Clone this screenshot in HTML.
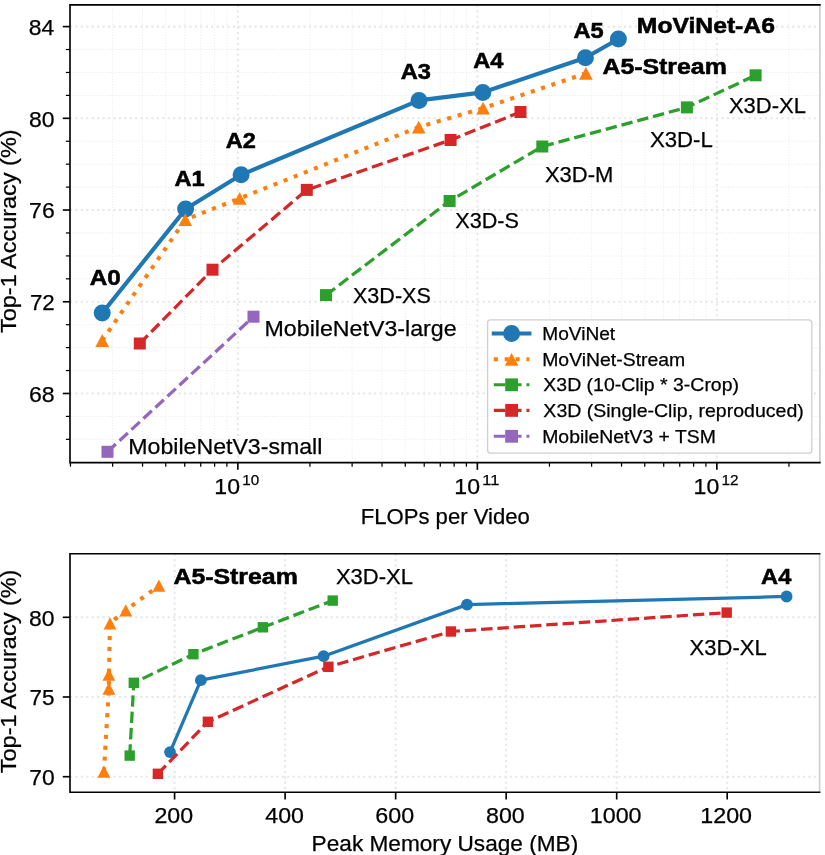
<!DOCTYPE html>
<html><head><meta charset="utf-8"><style>
html,body{margin:0;padding:0;background:#fff;}
svg{display:block;filter:blur(0.35px);}
text{font-family:"Liberation Sans",sans-serif;fill:#000;}
</style></head><body>
<svg width="825" height="855" viewBox="0 0 825 855">
<rect width="825" height="855" fill="#fff"/>
<line x1="70" y1="439.34" x2="819.9" y2="439.34" stroke="#ebebeb" stroke-width="1.03" stroke-dasharray="1.03 1.7"/>
<line x1="70" y1="416.41" x2="819.9" y2="416.41" stroke="#ebebeb" stroke-width="1.03" stroke-dasharray="1.03 1.7"/>
<line x1="70" y1="370.55" x2="819.9" y2="370.55" stroke="#ebebeb" stroke-width="1.03" stroke-dasharray="1.03 1.7"/>
<line x1="70" y1="347.62" x2="819.9" y2="347.62" stroke="#ebebeb" stroke-width="1.03" stroke-dasharray="1.03 1.7"/>
<line x1="70" y1="324.69" x2="819.9" y2="324.69" stroke="#ebebeb" stroke-width="1.03" stroke-dasharray="1.03 1.7"/>
<line x1="70" y1="278.83" x2="819.9" y2="278.83" stroke="#ebebeb" stroke-width="1.03" stroke-dasharray="1.03 1.7"/>
<line x1="70" y1="255.9" x2="819.9" y2="255.9" stroke="#ebebeb" stroke-width="1.03" stroke-dasharray="1.03 1.7"/>
<line x1="70" y1="232.97" x2="819.9" y2="232.97" stroke="#ebebeb" stroke-width="1.03" stroke-dasharray="1.03 1.7"/>
<line x1="70" y1="187.11" x2="819.9" y2="187.11" stroke="#ebebeb" stroke-width="1.03" stroke-dasharray="1.03 1.7"/>
<line x1="70" y1="164.18" x2="819.9" y2="164.18" stroke="#ebebeb" stroke-width="1.03" stroke-dasharray="1.03 1.7"/>
<line x1="70" y1="141.25" x2="819.9" y2="141.25" stroke="#ebebeb" stroke-width="1.03" stroke-dasharray="1.03 1.7"/>
<line x1="70" y1="95.39" x2="819.9" y2="95.39" stroke="#ebebeb" stroke-width="1.03" stroke-dasharray="1.03 1.7"/>
<line x1="70" y1="72.46" x2="819.9" y2="72.46" stroke="#ebebeb" stroke-width="1.03" stroke-dasharray="1.03 1.7"/>
<line x1="70" y1="49.53" x2="819.9" y2="49.53" stroke="#ebebeb" stroke-width="1.03" stroke-dasharray="1.03 1.7"/>
<line x1="112.62" y1="4.9" x2="112.62" y2="462.6" stroke="#ebebeb" stroke-width="1.03" stroke-dasharray="1.03 1.7"/>
<line x1="142.54" y1="4.9" x2="142.54" y2="462.6" stroke="#ebebeb" stroke-width="1.03" stroke-dasharray="1.03 1.7"/>
<line x1="165.75" y1="4.9" x2="165.75" y2="462.6" stroke="#ebebeb" stroke-width="1.03" stroke-dasharray="1.03 1.7"/>
<line x1="184.72" y1="4.9" x2="184.72" y2="462.6" stroke="#ebebeb" stroke-width="1.03" stroke-dasharray="1.03 1.7"/>
<line x1="200.75" y1="4.9" x2="200.75" y2="462.6" stroke="#ebebeb" stroke-width="1.03" stroke-dasharray="1.03 1.7"/>
<line x1="214.64" y1="4.9" x2="214.64" y2="462.6" stroke="#ebebeb" stroke-width="1.03" stroke-dasharray="1.03 1.7"/>
<line x1="226.89" y1="4.9" x2="226.89" y2="462.6" stroke="#ebebeb" stroke-width="1.03" stroke-dasharray="1.03 1.7"/>
<line x1="309.95" y1="4.9" x2="309.95" y2="462.6" stroke="#ebebeb" stroke-width="1.03" stroke-dasharray="1.03 1.7"/>
<line x1="352.12" y1="4.9" x2="352.12" y2="462.6" stroke="#ebebeb" stroke-width="1.03" stroke-dasharray="1.03 1.7"/>
<line x1="382.04" y1="4.9" x2="382.04" y2="462.6" stroke="#ebebeb" stroke-width="1.03" stroke-dasharray="1.03 1.7"/>
<line x1="405.25" y1="4.9" x2="405.25" y2="462.6" stroke="#ebebeb" stroke-width="1.03" stroke-dasharray="1.03 1.7"/>
<line x1="424.22" y1="4.9" x2="424.22" y2="462.6" stroke="#ebebeb" stroke-width="1.03" stroke-dasharray="1.03 1.7"/>
<line x1="440.25" y1="4.9" x2="440.25" y2="462.6" stroke="#ebebeb" stroke-width="1.03" stroke-dasharray="1.03 1.7"/>
<line x1="454.14" y1="4.9" x2="454.14" y2="462.6" stroke="#ebebeb" stroke-width="1.03" stroke-dasharray="1.03 1.7"/>
<line x1="466.39" y1="4.9" x2="466.39" y2="462.6" stroke="#ebebeb" stroke-width="1.03" stroke-dasharray="1.03 1.7"/>
<line x1="549.45" y1="4.9" x2="549.45" y2="462.6" stroke="#ebebeb" stroke-width="1.03" stroke-dasharray="1.03 1.7"/>
<line x1="591.62" y1="4.9" x2="591.62" y2="462.6" stroke="#ebebeb" stroke-width="1.03" stroke-dasharray="1.03 1.7"/>
<line x1="621.54" y1="4.9" x2="621.54" y2="462.6" stroke="#ebebeb" stroke-width="1.03" stroke-dasharray="1.03 1.7"/>
<line x1="644.75" y1="4.9" x2="644.75" y2="462.6" stroke="#ebebeb" stroke-width="1.03" stroke-dasharray="1.03 1.7"/>
<line x1="663.72" y1="4.9" x2="663.72" y2="462.6" stroke="#ebebeb" stroke-width="1.03" stroke-dasharray="1.03 1.7"/>
<line x1="679.75" y1="4.9" x2="679.75" y2="462.6" stroke="#ebebeb" stroke-width="1.03" stroke-dasharray="1.03 1.7"/>
<line x1="693.64" y1="4.9" x2="693.64" y2="462.6" stroke="#ebebeb" stroke-width="1.03" stroke-dasharray="1.03 1.7"/>
<line x1="705.89" y1="4.9" x2="705.89" y2="462.6" stroke="#ebebeb" stroke-width="1.03" stroke-dasharray="1.03 1.7"/>
<line x1="788.95" y1="4.9" x2="788.95" y2="462.6" stroke="#ebebeb" stroke-width="1.03" stroke-dasharray="1.03 1.7"/>
<line x1="70" y1="393.48" x2="819.9" y2="393.48" stroke="#e6e6e6" stroke-width="2.05" stroke-dasharray="2.05 3.38"/>
<line x1="70" y1="301.76" x2="819.9" y2="301.76" stroke="#e6e6e6" stroke-width="2.05" stroke-dasharray="2.05 3.38"/>
<line x1="70" y1="210.04" x2="819.9" y2="210.04" stroke="#e6e6e6" stroke-width="2.05" stroke-dasharray="2.05 3.38"/>
<line x1="70" y1="118.32" x2="819.9" y2="118.32" stroke="#e6e6e6" stroke-width="2.05" stroke-dasharray="2.05 3.38"/>
<line x1="70" y1="26.6" x2="819.9" y2="26.6" stroke="#e6e6e6" stroke-width="2.05" stroke-dasharray="2.05 3.38"/>
<line x1="237.85" y1="4.9" x2="237.85" y2="462.6" stroke="#e6e6e6" stroke-width="2.05" stroke-dasharray="2.05 3.38"/>
<line x1="477.35" y1="4.9" x2="477.35" y2="462.6" stroke="#e6e6e6" stroke-width="2.05" stroke-dasharray="2.05 3.38"/>
<line x1="716.85" y1="4.9" x2="716.85" y2="462.6" stroke="#e6e6e6" stroke-width="2.05" stroke-dasharray="2.05 3.38"/>
<polyline points="102.2,313 185.6,209.1 241.1,174.8 419,100.4 482.8,92.4 585.4,57.7 618.4,39" fill="none" stroke="#1f77b4" stroke-width="4.1" stroke-linejoin="round" stroke-linecap="square"/>
<circle cx="102.2" cy="313" r="8.5" fill="#1f77b4"/>
<circle cx="185.6" cy="209.1" r="8.5" fill="#1f77b4"/>
<circle cx="241.1" cy="174.8" r="8.5" fill="#1f77b4"/>
<circle cx="419" cy="100.4" r="8.5" fill="#1f77b4"/>
<circle cx="482.8" cy="92.4" r="8.5" fill="#1f77b4"/>
<circle cx="585.4" cy="57.7" r="8.5" fill="#1f77b4"/>
<circle cx="618.4" cy="39" r="8.5" fill="#1f77b4"/>
<line x1="102.2" y1="340.5" x2="185.3" y2="219.6" stroke="#ff7f0e" stroke-width="4.1" stroke-dasharray="4.1 6.77" stroke-dashoffset="0"/>
<line x1="185.3" y1="219.6" x2="239.7" y2="198.4" stroke="#ff7f0e" stroke-width="4.1" stroke-dasharray="4.1 6.77" stroke-dashoffset="3.9"/>
<line x1="239.7" y1="198.4" x2="418.7" y2="127.1" stroke="#ff7f0e" stroke-width="4.1" stroke-dasharray="4.1 6.77" stroke-dashoffset="7.03"/>
<line x1="418.7" y1="127.1" x2="483.1" y2="108.2" stroke="#ff7f0e" stroke-width="4.1" stroke-dasharray="4.1 6.77" stroke-dashoffset="2.95"/>
<line x1="483.1" y1="108.2" x2="585.9" y2="73.3" stroke="#ff7f0e" stroke-width="4.1" stroke-dasharray="4.1 6.77" stroke-dashoffset="3.94"/>
<path d="M102.2 334.1L109 346.9L95.4 346.9Z" fill="#ff7f0e"/>
<path d="M185.3 213.2L192.1 226L178.5 226Z" fill="#ff7f0e"/>
<path d="M239.7 192L246.5 204.8L232.9 204.8Z" fill="#ff7f0e"/>
<path d="M418.7 120.7L425.5 133.5L411.9 133.5Z" fill="#ff7f0e"/>
<path d="M483.1 101.8L489.9 114.6L476.3 114.6Z" fill="#ff7f0e"/>
<path d="M585.9 66.9L592.7 79.7L579.1 79.7Z" fill="#ff7f0e"/>
<line x1="326" y1="295.1" x2="449.6" y2="201" stroke="#2ca02c" stroke-width="3.25" stroke-dasharray="11.4 4.93" stroke-dashoffset="0"/>
<line x1="449.6" y1="201" x2="542.3" y2="146.5" stroke="#2ca02c" stroke-width="3.25" stroke-dasharray="11.4 4.93" stroke-dashoffset="7.07"/>
<line x1="542.3" y1="146.5" x2="686.9" y2="107.4" stroke="#2ca02c" stroke-width="3.25" stroke-dasharray="11.4 4.93" stroke-dashoffset="15.93"/>
<line x1="686.9" y1="107.4" x2="755.6" y2="75.3" stroke="#2ca02c" stroke-width="3.25" stroke-dasharray="11.4 4.93" stroke-dashoffset="3.12"/>
<rect x="320" y="289.1" width="12" height="12" fill="#2ca02c"/>
<rect x="443.6" y="195" width="12" height="12" fill="#2ca02c"/>
<rect x="536.3" y="140.5" width="12" height="12" fill="#2ca02c"/>
<rect x="680.9" y="101.4" width="12" height="12" fill="#2ca02c"/>
<rect x="749.6" y="69.3" width="12" height="12" fill="#2ca02c"/>
<line x1="139.8" y1="343.5" x2="212.5" y2="269.7" stroke="#d62728" stroke-width="3.25" stroke-dasharray="11.4 4.93" stroke-dashoffset="0"/>
<line x1="212.5" y1="269.7" x2="306.8" y2="189.9" stroke="#d62728" stroke-width="3.25" stroke-dasharray="11.4 4.93" stroke-dashoffset="4.61"/>
<line x1="306.8" y1="189.9" x2="450.6" y2="140" stroke="#d62728" stroke-width="3.25" stroke-dasharray="11.4 4.93" stroke-dashoffset="12.74"/>
<line x1="450.6" y1="140" x2="520.5" y2="112" stroke="#d62728" stroke-width="3.25" stroke-dasharray="11.4 4.93" stroke-dashoffset="1.05"/>
<rect x="133.8" y="337.5" width="12" height="12" fill="#d62728"/>
<rect x="206.5" y="263.7" width="12" height="12" fill="#d62728"/>
<rect x="300.8" y="183.9" width="12" height="12" fill="#d62728"/>
<rect x="444.6" y="134" width="12" height="12" fill="#d62728"/>
<rect x="514.5" y="106" width="12" height="12" fill="#d62728"/>
<line x1="107.5" y1="451.8" x2="253.5" y2="316.7" stroke="#9467bd" stroke-width="3.25" stroke-dasharray="11.4 4.93" stroke-dashoffset="0"/>
<rect x="101.5" y="445.8" width="12" height="12" fill="#9467bd"/>
<rect x="247.5" y="310.7" width="12" height="12" fill="#9467bd"/>
<line x1="819.9" y1="4.9" x2="819.9" y2="462.6" stroke="#cccccc" stroke-width="1.6"/>
<line x1="70" y1="4.9" x2="820.7" y2="4.9" stroke="#000" stroke-width="1.64"/>
<line x1="70" y1="462.6" x2="820.7" y2="462.6" stroke="#000" stroke-width="1.64"/>
<line x1="70" y1="4.1" x2="70" y2="463.4" stroke="#000" stroke-width="1.64"/>
<line x1="65.9" y1="439.34" x2="70" y2="439.34" stroke="#000" stroke-width="1.23"/>
<line x1="65.9" y1="416.41" x2="70" y2="416.41" stroke="#000" stroke-width="1.23"/>
<line x1="62.8" y1="393.48" x2="70" y2="393.48" stroke="#000" stroke-width="1.64"/>
<line x1="65.9" y1="370.55" x2="70" y2="370.55" stroke="#000" stroke-width="1.23"/>
<line x1="65.9" y1="347.62" x2="70" y2="347.62" stroke="#000" stroke-width="1.23"/>
<line x1="65.9" y1="324.69" x2="70" y2="324.69" stroke="#000" stroke-width="1.23"/>
<line x1="62.8" y1="301.76" x2="70" y2="301.76" stroke="#000" stroke-width="1.64"/>
<line x1="65.9" y1="278.83" x2="70" y2="278.83" stroke="#000" stroke-width="1.23"/>
<line x1="65.9" y1="255.9" x2="70" y2="255.9" stroke="#000" stroke-width="1.23"/>
<line x1="65.9" y1="232.97" x2="70" y2="232.97" stroke="#000" stroke-width="1.23"/>
<line x1="62.8" y1="210.04" x2="70" y2="210.04" stroke="#000" stroke-width="1.64"/>
<line x1="65.9" y1="187.11" x2="70" y2="187.11" stroke="#000" stroke-width="1.23"/>
<line x1="65.9" y1="164.18" x2="70" y2="164.18" stroke="#000" stroke-width="1.23"/>
<line x1="65.9" y1="141.25" x2="70" y2="141.25" stroke="#000" stroke-width="1.23"/>
<line x1="62.8" y1="118.32" x2="70" y2="118.32" stroke="#000" stroke-width="1.64"/>
<line x1="65.9" y1="95.39" x2="70" y2="95.39" stroke="#000" stroke-width="1.23"/>
<line x1="65.9" y1="72.46" x2="70" y2="72.46" stroke="#000" stroke-width="1.23"/>
<line x1="65.9" y1="49.53" x2="70" y2="49.53" stroke="#000" stroke-width="1.23"/>
<line x1="62.8" y1="26.6" x2="70" y2="26.6" stroke="#000" stroke-width="1.64"/>
<line x1="70.45" y1="462.6" x2="70.45" y2="466.7" stroke="#000" stroke-width="1.23"/>
<line x1="112.62" y1="462.6" x2="112.62" y2="466.7" stroke="#000" stroke-width="1.23"/>
<line x1="142.54" y1="462.6" x2="142.54" y2="466.7" stroke="#000" stroke-width="1.23"/>
<line x1="165.75" y1="462.6" x2="165.75" y2="466.7" stroke="#000" stroke-width="1.23"/>
<line x1="184.72" y1="462.6" x2="184.72" y2="466.7" stroke="#000" stroke-width="1.23"/>
<line x1="200.75" y1="462.6" x2="200.75" y2="466.7" stroke="#000" stroke-width="1.23"/>
<line x1="214.64" y1="462.6" x2="214.64" y2="466.7" stroke="#000" stroke-width="1.23"/>
<line x1="226.89" y1="462.6" x2="226.89" y2="466.7" stroke="#000" stroke-width="1.23"/>
<line x1="309.95" y1="462.6" x2="309.95" y2="466.7" stroke="#000" stroke-width="1.23"/>
<line x1="352.12" y1="462.6" x2="352.12" y2="466.7" stroke="#000" stroke-width="1.23"/>
<line x1="382.04" y1="462.6" x2="382.04" y2="466.7" stroke="#000" stroke-width="1.23"/>
<line x1="405.25" y1="462.6" x2="405.25" y2="466.7" stroke="#000" stroke-width="1.23"/>
<line x1="424.22" y1="462.6" x2="424.22" y2="466.7" stroke="#000" stroke-width="1.23"/>
<line x1="440.25" y1="462.6" x2="440.25" y2="466.7" stroke="#000" stroke-width="1.23"/>
<line x1="454.14" y1="462.6" x2="454.14" y2="466.7" stroke="#000" stroke-width="1.23"/>
<line x1="466.39" y1="462.6" x2="466.39" y2="466.7" stroke="#000" stroke-width="1.23"/>
<line x1="549.45" y1="462.6" x2="549.45" y2="466.7" stroke="#000" stroke-width="1.23"/>
<line x1="591.62" y1="462.6" x2="591.62" y2="466.7" stroke="#000" stroke-width="1.23"/>
<line x1="621.54" y1="462.6" x2="621.54" y2="466.7" stroke="#000" stroke-width="1.23"/>
<line x1="644.75" y1="462.6" x2="644.75" y2="466.7" stroke="#000" stroke-width="1.23"/>
<line x1="663.72" y1="462.6" x2="663.72" y2="466.7" stroke="#000" stroke-width="1.23"/>
<line x1="679.75" y1="462.6" x2="679.75" y2="466.7" stroke="#000" stroke-width="1.23"/>
<line x1="693.64" y1="462.6" x2="693.64" y2="466.7" stroke="#000" stroke-width="1.23"/>
<line x1="705.89" y1="462.6" x2="705.89" y2="466.7" stroke="#000" stroke-width="1.23"/>
<line x1="788.95" y1="462.6" x2="788.95" y2="466.7" stroke="#000" stroke-width="1.23"/>
<line x1="237.85" y1="462.6" x2="237.85" y2="469.8" stroke="#000" stroke-width="1.64"/>
<line x1="477.35" y1="462.6" x2="477.35" y2="469.8" stroke="#000" stroke-width="1.64"/>
<line x1="716.85" y1="462.6" x2="716.85" y2="469.8" stroke="#000" stroke-width="1.64"/>
<text x="28.97" y="401.78" font-size="22" font-weight="normal" textLength="25.71" lengthAdjust="spacingAndGlyphs" stroke="#000" stroke-width="0.25">68</text>
<text x="29.9" y="310.06" font-size="22" font-weight="normal" textLength="24.9" lengthAdjust="spacingAndGlyphs" stroke="#000" stroke-width="0.25">72</text>
<text x="29.11" y="218.34" font-size="22" font-weight="normal" textLength="25.58" lengthAdjust="spacingAndGlyphs" stroke="#000" stroke-width="0.25">76</text>
<text x="29.07" y="126.62" font-size="22" font-weight="normal" textLength="25.51" lengthAdjust="spacingAndGlyphs" stroke="#000" stroke-width="0.25">80</text>
<text x="28.86" y="34.9" font-size="22" font-weight="normal" textLength="25.5" lengthAdjust="spacingAndGlyphs" stroke="#000" stroke-width="0.25">84</text>
<text x="214.34" y="493.5" font-size="21.2" font-weight="normal" textLength="25.66" lengthAdjust="spacingAndGlyphs" stroke="#000" stroke-width="0.25">10</text>
<text x="242.24" y="484.7" font-size="15.37" font-weight="normal" textLength="16.96" lengthAdjust="spacingAndGlyphs" stroke="#000" stroke-width="0.25">10</text>
<text x="454.34" y="493.5" font-size="21.2" font-weight="normal" textLength="25.66" lengthAdjust="spacingAndGlyphs" stroke="#000" stroke-width="0.25">10</text>
<text x="482.23" y="484.7" font-size="15.37" font-weight="normal" textLength="17.12" lengthAdjust="spacingAndGlyphs" stroke="#000" stroke-width="0.25">11</text>
<text x="693.64" y="493.5" font-size="21.2" font-weight="normal" textLength="25.66" lengthAdjust="spacingAndGlyphs" stroke="#000" stroke-width="0.25">10</text>
<text x="721.53" y="484.7" font-size="15.37" font-weight="normal" textLength="17.15" lengthAdjust="spacingAndGlyphs" stroke="#000" stroke-width="0.25">12</text>
<text x="89.8" y="285.3" font-size="22" font-weight="bold" textLength="31" lengthAdjust="spacingAndGlyphs" stroke="#000" stroke-width="0.55">A0</text>
<text x="174.41" y="186" font-size="22" font-weight="bold" textLength="30.21" lengthAdjust="spacingAndGlyphs" stroke="#000" stroke-width="0.55">A1</text>
<text x="225.71" y="147.7" font-size="22" font-weight="bold" textLength="30.12" lengthAdjust="spacingAndGlyphs" stroke="#000" stroke-width="0.55">A2</text>
<text x="400.71" y="79" font-size="22" font-weight="bold" textLength="30.19" lengthAdjust="spacingAndGlyphs" stroke="#000" stroke-width="0.55">A3</text>
<text x="473.21" y="67.9" font-size="22" font-weight="bold" textLength="30.16" lengthAdjust="spacingAndGlyphs" stroke="#000" stroke-width="0.55">A4</text>
<text x="573.41" y="37.7" font-size="22" font-weight="bold" textLength="30.19" lengthAdjust="spacingAndGlyphs" stroke="#000" stroke-width="0.55">A5</text>
<text x="636.85" y="33.1" font-size="22" font-weight="bold" textLength="138.06" lengthAdjust="spacingAndGlyphs" stroke="#000" stroke-width="0.55">MoViNet-A6</text>
<text x="602.48" y="74" font-size="22" font-weight="bold" textLength="124.32" lengthAdjust="spacingAndGlyphs" stroke="#000" stroke-width="0.55">A5-Stream</text>
<text x="728.91" y="113" font-size="22" font-weight="normal" textLength="77.15" lengthAdjust="spacingAndGlyphs" stroke="#000" stroke-width="0.25">X3D-XL</text>
<text x="649.9" y="147" font-size="22" font-weight="normal" textLength="62.95" lengthAdjust="spacingAndGlyphs" stroke="#000" stroke-width="0.25">X3D-L</text>
<text x="544.91" y="182" font-size="22" font-weight="normal" textLength="68.44" lengthAdjust="spacingAndGlyphs" stroke="#000" stroke-width="0.25">X3D-M</text>
<text x="455.21" y="227.6" font-size="22" font-weight="normal" textLength="63.76" lengthAdjust="spacingAndGlyphs" stroke="#000" stroke-width="0.25">X3D-S</text>
<text x="352.92" y="302.7" font-size="22" font-weight="normal" textLength="77.97" lengthAdjust="spacingAndGlyphs" stroke="#000" stroke-width="0.25">X3D-XS</text>
<text x="264.5" y="335.5" font-size="22" font-weight="normal" textLength="192.12" lengthAdjust="spacingAndGlyphs" stroke="#000" stroke-width="0.25">MobileNetV3-large</text>
<text x="128.3" y="454.2" font-size="22" font-weight="normal" textLength="194.11" lengthAdjust="spacingAndGlyphs" stroke="#000" stroke-width="0.25">MobileNetV3-small</text>
<text x="360.79" y="524" font-size="22" font-weight="normal" textLength="168.97" lengthAdjust="spacingAndGlyphs" stroke="#000" stroke-width="0.25">FLOPs per Video</text>
<text transform="translate(15.8,332.5) rotate(-90)" x="-0.52" y="0" font-size="22" font-weight="normal" textLength="203.65" lengthAdjust="spacingAndGlyphs" stroke="#000" stroke-width="0.25">Top-1 Accuracy (%)</text>
<rect x="487.6" y="319.8" width="324.2" height="133.4" rx="3" ry="3" fill="#fff" fill-opacity="0.95" stroke="#d0d0d0" stroke-width="1.3"/>
<polyline points="493.8,333.5 529.4,333.5" fill="none" stroke="#1f77b4" stroke-width="4.1" stroke-linejoin="round" stroke-linecap="square"/>
<circle cx="511.6" cy="333.5" r="8.5" fill="#1f77b4"/>
<polyline points="493.8,359.3 529.4,359.3" fill="none" stroke="#ff7f0e" stroke-width="4.1" stroke-linejoin="round" stroke-linecap="butt" stroke-dasharray="4.1 6.77"/>
<path d="M511.6 352.9L518.4 365.7L504.8 365.7Z" fill="#ff7f0e"/>
<polyline points="493.8,384.8 529.4,384.8" fill="none" stroke="#2ca02c" stroke-width="3.08" stroke-linejoin="round" stroke-linecap="butt" stroke-dasharray="11.4 4.93"/>
<rect x="505.2" y="378.4" width="12.8" height="12.8" fill="#2ca02c"/>
<polyline points="493.8,410.4 529.4,410.4" fill="none" stroke="#d62728" stroke-width="3.08" stroke-linejoin="round" stroke-linecap="butt" stroke-dasharray="11.4 4.93"/>
<rect x="505.2" y="404" width="12.8" height="12.8" fill="#d62728"/>
<polyline points="493.8,436.3 529.4,436.3" fill="none" stroke="#9467bd" stroke-width="3.08" stroke-linejoin="round" stroke-linecap="butt" stroke-dasharray="11.4 4.93"/>
<rect x="505.2" y="429.9" width="12.8" height="12.8" fill="#9467bd"/>
<text x="542.24" y="340.1" font-size="18.55" font-weight="normal" textLength="72.92" lengthAdjust="spacingAndGlyphs" stroke="#000" stroke-width="0.25">MoViNet</text>
<text x="542.21" y="365.9" font-size="18.55" font-weight="normal" textLength="143.03" lengthAdjust="spacingAndGlyphs" stroke="#000" stroke-width="0.25">MoViNet-Stream</text>
<text x="543.36" y="391.4" font-size="18.55" font-weight="normal" textLength="195.62" lengthAdjust="spacingAndGlyphs" stroke="#000" stroke-width="0.25">X3D (10-Clip * 3-Crop)</text>
<text x="543.36" y="417" font-size="18.55" font-weight="normal" textLength="260.4" lengthAdjust="spacingAndGlyphs" stroke="#000" stroke-width="0.25">X3D (Single-Clip, reproduced)</text>
<text x="542.21" y="442.9" font-size="18.55" font-weight="normal" textLength="173.66" lengthAdjust="spacingAndGlyphs" stroke="#000" stroke-width="0.25">MobileNetV3 + TSM</text>
<line x1="70" y1="776.7" x2="819.6" y2="776.7" stroke="#e6e6e6" stroke-width="2.05" stroke-dasharray="2.05 3.38"/>
<line x1="70" y1="697" x2="819.6" y2="697" stroke="#e6e6e6" stroke-width="2.05" stroke-dasharray="2.05 3.38"/>
<line x1="70" y1="617.3" x2="819.6" y2="617.3" stroke="#e6e6e6" stroke-width="2.05" stroke-dasharray="2.05 3.38"/>
<line x1="174.6" y1="553.7" x2="174.6" y2="792.3" stroke="#e6e6e6" stroke-width="2.05" stroke-dasharray="2.05 3.38"/>
<line x1="285.12" y1="553.7" x2="285.12" y2="792.3" stroke="#e6e6e6" stroke-width="2.05" stroke-dasharray="2.05 3.38"/>
<line x1="395.64" y1="553.7" x2="395.64" y2="792.3" stroke="#e6e6e6" stroke-width="2.05" stroke-dasharray="2.05 3.38"/>
<line x1="506.16" y1="553.7" x2="506.16" y2="792.3" stroke="#e6e6e6" stroke-width="2.05" stroke-dasharray="2.05 3.38"/>
<line x1="616.68" y1="553.7" x2="616.68" y2="792.3" stroke="#e6e6e6" stroke-width="2.05" stroke-dasharray="2.05 3.38"/>
<line x1="727.2" y1="553.7" x2="727.2" y2="792.3" stroke="#e6e6e6" stroke-width="2.05" stroke-dasharray="2.05 3.38"/>
<polyline points="170,752.1 200.9,680.2 323.6,656.2 467,604.6 786.6,596.5" fill="none" stroke="#1f77b4" stroke-width="3.25" stroke-linejoin="round" stroke-linecap="square"/>
<circle cx="170" cy="752.1" r="5.9" fill="#1f77b4"/>
<circle cx="200.9" cy="680.2" r="5.9" fill="#1f77b4"/>
<circle cx="323.6" cy="656.2" r="5.9" fill="#1f77b4"/>
<circle cx="467" cy="604.6" r="5.9" fill="#1f77b4"/>
<circle cx="786.6" cy="596.5" r="5.9" fill="#1f77b4"/>
<line x1="103.9" y1="771.5" x2="108.9" y2="688.5" stroke="#ff7f0e" stroke-width="4.1" stroke-dasharray="4.1 6.77" stroke-dashoffset="0"/>
<line x1="108.9" y1="688.5" x2="108.9" y2="674.5" stroke="#ff7f0e" stroke-width="4.1" stroke-dasharray="4.1 6.77" stroke-dashoffset="7.06"/>
<line x1="108.9" y1="674.5" x2="110" y2="623.3" stroke="#ff7f0e" stroke-width="4.1" stroke-dasharray="4.1 6.77" stroke-dashoffset="9.09"/>
<line x1="110" y1="623.3" x2="125.8" y2="610.3" stroke="#ff7f0e" stroke-width="4.1" stroke-dasharray="4.1 6.77" stroke-dashoffset="5.35"/>
<line x1="125.8" y1="610.3" x2="158.9" y2="585.7" stroke="#ff7f0e" stroke-width="4.1" stroke-dasharray="4.1 6.77" stroke-dashoffset="3.57"/>
<path d="M103.9 765.35L110.3 777.65L97.5 777.65Z" fill="#ff7f0e"/>
<path d="M108.9 682.35L115.3 694.65L102.5 694.65Z" fill="#ff7f0e"/>
<path d="M108.9 668.35L115.3 680.65L102.5 680.65Z" fill="#ff7f0e"/>
<path d="M110 617.15L116.4 629.45L103.6 629.45Z" fill="#ff7f0e"/>
<path d="M125.8 604.15L132.2 616.45L119.4 616.45Z" fill="#ff7f0e"/>
<path d="M158.9 579.55L165.3 591.85L152.5 591.85Z" fill="#ff7f0e"/>
<line x1="129.7" y1="755.6" x2="133.8" y2="682.8" stroke="#2ca02c" stroke-width="3.25" stroke-dasharray="11.4 4.93" stroke-dashoffset="0"/>
<line x1="133.8" y1="682.8" x2="193.4" y2="654.2" stroke="#2ca02c" stroke-width="3.25" stroke-dasharray="11.4 4.93" stroke-dashoffset="6.6"/>
<line x1="193.4" y1="654.2" x2="262.9" y2="627.3" stroke="#2ca02c" stroke-width="3.25" stroke-dasharray="11.4 4.93" stroke-dashoffset="7.08"/>
<line x1="262.9" y1="627.3" x2="332.7" y2="600.6" stroke="#2ca02c" stroke-width="3.25" stroke-dasharray="11.4 4.93" stroke-dashoffset="16.29"/>
<rect x="124.5" y="750.4" width="10.4" height="10.4" fill="#2ca02c"/>
<rect x="128.6" y="677.6" width="10.4" height="10.4" fill="#2ca02c"/>
<rect x="188.2" y="649" width="10.4" height="10.4" fill="#2ca02c"/>
<rect x="257.7" y="622.1" width="10.4" height="10.4" fill="#2ca02c"/>
<rect x="327.5" y="595.4" width="10.4" height="10.4" fill="#2ca02c"/>
<line x1="157.9" y1="773.8" x2="207.9" y2="721.8" stroke="#d62728" stroke-width="3.25" stroke-dasharray="11.4 4.93" stroke-dashoffset="0"/>
<line x1="207.9" y1="721.8" x2="328.4" y2="666.8" stroke="#d62728" stroke-width="3.25" stroke-dasharray="11.4 4.93" stroke-dashoffset="5.22"/>
<line x1="328.4" y1="666.8" x2="450.9" y2="631.5" stroke="#d62728" stroke-width="3.25" stroke-dasharray="11.4 4.93" stroke-dashoffset="7.04"/>
<line x1="450.9" y1="631.5" x2="726.7" y2="612.6" stroke="#d62728" stroke-width="3.25" stroke-dasharray="11.4 4.93" stroke-dashoffset="2.38"/>
<rect x="152.7" y="768.6" width="10.4" height="10.4" fill="#d62728"/>
<rect x="202.7" y="716.6" width="10.4" height="10.4" fill="#d62728"/>
<rect x="323.2" y="661.6" width="10.4" height="10.4" fill="#d62728"/>
<rect x="445.7" y="626.3" width="10.4" height="10.4" fill="#d62728"/>
<rect x="721.5" y="607.4" width="10.4" height="10.4" fill="#d62728"/>
<line x1="819.6" y1="553.7" x2="819.6" y2="792.3" stroke="#cccccc" stroke-width="1.6"/>
<line x1="70" y1="553.7" x2="820.4" y2="553.7" stroke="#000" stroke-width="1.64"/>
<line x1="70" y1="792.3" x2="820.4" y2="792.3" stroke="#000" stroke-width="1.64"/>
<line x1="70" y1="552.9" x2="70" y2="793.1" stroke="#000" stroke-width="1.64"/>
<line x1="62.8" y1="776.7" x2="70" y2="776.7" stroke="#000" stroke-width="1.64"/>
<text x="29.19" y="785" font-size="22" font-weight="normal" textLength="25.39" lengthAdjust="spacingAndGlyphs" stroke="#000" stroke-width="0.25">70</text>
<line x1="62.8" y1="697" x2="70" y2="697" stroke="#000" stroke-width="1.64"/>
<text x="29.64" y="705.3" font-size="22" font-weight="normal" textLength="24.98" lengthAdjust="spacingAndGlyphs" stroke="#000" stroke-width="0.25">75</text>
<line x1="62.8" y1="617.3" x2="70" y2="617.3" stroke="#000" stroke-width="1.64"/>
<text x="29.07" y="625.6" font-size="22" font-weight="normal" textLength="25.51" lengthAdjust="spacingAndGlyphs" stroke="#000" stroke-width="0.25">80</text>
<line x1="174.6" y1="792.3" x2="174.6" y2="799.5" stroke="#000" stroke-width="1.64"/>
<text x="154.4" y="822.6" font-size="22" font-weight="normal" textLength="38.78" lengthAdjust="spacingAndGlyphs" stroke="#000" stroke-width="0.25">200</text>
<line x1="285.12" y1="792.3" x2="285.12" y2="799.5" stroke="#000" stroke-width="1.64"/>
<text x="265.31" y="822.6" font-size="22" font-weight="normal" textLength="38.65" lengthAdjust="spacingAndGlyphs" stroke="#000" stroke-width="0.25">400</text>
<line x1="395.64" y1="792.3" x2="395.64" y2="799.5" stroke="#000" stroke-width="1.64"/>
<text x="375.39" y="822.6" font-size="22" font-weight="normal" textLength="38.87" lengthAdjust="spacingAndGlyphs" stroke="#000" stroke-width="0.25">600</text>
<line x1="506.16" y1="792.3" x2="506.16" y2="799.5" stroke="#000" stroke-width="1.64"/>
<text x="486.06" y="822.6" font-size="22" font-weight="normal" textLength="38.73" lengthAdjust="spacingAndGlyphs" stroke="#000" stroke-width="0.25">800</text>
<line x1="616.68" y1="792.3" x2="616.68" y2="799.5" stroke="#000" stroke-width="1.64"/>
<text x="589.73" y="822.6" font-size="22" font-weight="normal" textLength="51.83" lengthAdjust="spacingAndGlyphs" stroke="#000" stroke-width="0.25">1000</text>
<line x1="727.2" y1="792.3" x2="727.2" y2="799.5" stroke="#000" stroke-width="1.64"/>
<text x="700.25" y="822.6" font-size="22" font-weight="normal" textLength="51.83" lengthAdjust="spacingAndGlyphs" stroke="#000" stroke-width="0.25">1200</text>
<text x="173.48" y="584.2" font-size="22" font-weight="bold" textLength="124.32" lengthAdjust="spacingAndGlyphs" stroke="#000" stroke-width="0.55">A5-Stream</text>
<text x="335.91" y="584.2" font-size="22" font-weight="normal" textLength="77.15" lengthAdjust="spacingAndGlyphs" stroke="#000" stroke-width="0.25">X3D-XL</text>
<text x="761.11" y="584" font-size="22" font-weight="bold" textLength="30.16" lengthAdjust="spacingAndGlyphs" stroke="#000" stroke-width="0.55">A4</text>
<text x="689.61" y="655.2" font-size="22" font-weight="normal" textLength="77.15" lengthAdjust="spacingAndGlyphs" stroke="#000" stroke-width="0.25">X3D-XL</text>
<text x="311.64" y="851.2" font-size="22" font-weight="normal" textLength="266.61" lengthAdjust="spacingAndGlyphs" stroke="#000" stroke-width="0.25">Peak Memory Usage (MB)</text>
<text transform="translate(15.8,772.7) rotate(-90)" x="-0.52" y="0" font-size="22" font-weight="normal" textLength="203.65" lengthAdjust="spacingAndGlyphs" stroke="#000" stroke-width="0.25">Top-1 Accuracy (%)</text>
</svg>
</body></html>
